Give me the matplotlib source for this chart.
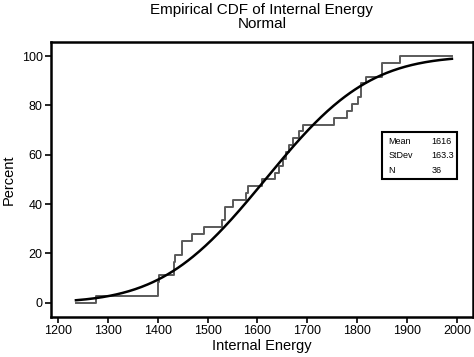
import numpy as np
import matplotlib
matplotlib.use("Agg")
import matplotlib.pyplot as plt
from matplotlib.patches import Rectangle

plt.rcParams['font.family'] = ['Liberation Sans', 'DejaVu Sans']

# Internal energy values (N = 36)
energy = [1276, 1400, 1400, 1402, 1432, 1432, 1434, 1449, 1449, 1469,
          1493, 1529, 1535, 1535, 1550, 1577, 1582, 1609, 1636, 1643,
          1651, 1657, 1663, 1671, 1683, 1691, 1753, 1779, 1789, 1802,
          1807, 1807, 1817, 1850, 1850, 1885]
x_start, x_end = 1236, 1990       # plotted range of the curves
mean, stdev, n = 1616, 163.3, 36

x_ticks = list(range(1200, 2001, 100))
y_ticks = list(range(0, 101, 20))

# empirical CDF as steps
xs = np.sort(np.array(energy, dtype=float))
step_x = np.concatenate([[x_start], xs, [x_end]])
step_y = np.concatenate([[0], np.arange(1, len(xs) + 1) / len(xs) * 100, [100]])

# fitted normal CDF
from math import erf, sqrt
grid = np.linspace(x_start, x_end, 300)
cdf = np.array([50 * (1 + erf((g - mean) / (stdev * sqrt(2)))) for g in grid])

fig = plt.figure(figsize=(4.74, 3.57), dpi=100)
ax = fig.add_axes([0.1076, 0.112, 0.890, 0.771])

ax.step(step_x, step_y, where='post', color='#5a5a5a', lw=1.4)
ax.plot(grid, cdf, color='black', lw=1.8)

ax.set_xlim(1186, 2032)
ax.set_ylim(-5.8, 105.8)
ax.set_xticks(x_ticks)
ax.set_yticks(y_ticks)
ax.tick_params(direction='out', length=4, width=1.2, labelsize=9, pad=2)
for s in ax.spines.values():
    s.set_linewidth(1.8)

ax.set_xlabel("Internal Energy", fontsize=10.5, labelpad=1)
ax.set_ylabel("Percent", fontsize=10.5, labelpad=4)
ax.set_title("Empirical CDF of Internal Energy\nNormal", fontsize=11,
             linespacing=0.95, pad=10)

# statistics box
ax.add_patch(Rectangle((0.784, 0.501), 0.178, 0.171, transform=ax.transAxes,
                       fill=False, edgecolor='black', lw=1.5))
rows = [("Mean", f"{mean}"), ("StDev", f"{stdev}"), ("N", f"{n}")]
for i, (lab, val) in enumerate(rows):
    yy = 0.637 - i * 0.0515
    ax.text(0.799, yy, lab, transform=ax.transAxes, fontsize=6.5, va='center')
    ax.text(0.902, yy, val, transform=ax.transAxes, fontsize=6.5, va='center')

fig.savefig("out.png", dpi=100)
